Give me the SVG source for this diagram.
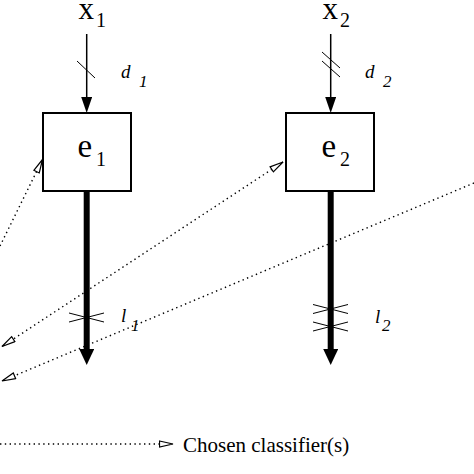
<svg xmlns="http://www.w3.org/2000/svg" width="474" height="474" viewBox="0 0 474 474">
<style>
  .box { fill: #fff; stroke: #000; stroke-width: 2; }
  .thin { stroke: #000; stroke-width: 1.5; fill: none; }
  .thick { stroke: #000; stroke-width: 6; fill: none; }
  .tick { stroke: #000; stroke-width: 1; fill: none; }
  .dot { stroke: #000; stroke-width: 1.4; fill: none; stroke-dasharray: 1.4 3.4; }
  text { font-family: 'Liberation Serif', 'DejaVu Serif', serif; fill: #000; }
  .big { font-size: 33px; }
  .top { font-size: 31px; }
  .sub { font-size: 20px; }
  .it { font-style: italic; font-size: 19px; }
  .its { font-style: italic; font-size: 17px; }
  .leg { font-size: 21px; }
</style>
<defs>
  <marker id="open" markerUnits="userSpaceOnUse" viewBox="0 0 16 8" markerWidth="16" markerHeight="8" refX="14.5" refY="4" orient="auto-start-reverse">
    <path d="M1,1 L14.5,4 L1,7 Z" fill="#fff" stroke="#000" stroke-width="1.2"/>
  </marker>
  <marker id="solid" markerUnits="userSpaceOnUse" viewBox="0 0 16 11" markerWidth="16" markerHeight="11" refX="0" refY="5.5" orient="auto">
    <path d="M0,0 L16,5.5 L0,11 Z" fill="#000"/>
  </marker>
  <marker id="solidBig" markerUnits="userSpaceOnUse" viewBox="0 0 16 15" markerWidth="16" markerHeight="15" refX="0" refY="7.5" orient="auto">
    <path d="M0,0 L16,7.5 L0,15 Z" fill="#000"/>
  </marker>
</defs>

<g id="connectors">
  <line class="thin" x1="86.7" y1="34" x2="86.7" y2="97" marker-end="url(#solid)"/>
  <line class="thin" x1="330.7" y1="34" x2="330.7" y2="97" marker-end="url(#solid)"/>
  <line class="tick" x1="77" y1="61" x2="95" y2="78"/>
  <line class="tick" x1="322" y1="52" x2="340" y2="68"/>
  <line class="tick" x1="322" y1="61" x2="340" y2="77"/>
  <line class="thick" x1="86.7" y1="192" x2="86.7" y2="349" marker-end="url(#solidBig)"/>
  <line class="thick" x1="330.7" y1="192" x2="330.7" y2="349" marker-end="url(#solidBig)"/>
  <line class="tick" x1="69" y1="313" x2="104" y2="322"/>
  <line class="tick" x1="69" y1="322" x2="104" y2="313"/>
  <line class="tick" x1="313" y1="304.5" x2="348" y2="313.5"/>
  <line class="tick" x1="313" y1="313.5" x2="348" y2="304.5"/>
  <line class="tick" x1="313" y1="322" x2="348" y2="331"/>
  <line class="tick" x1="313" y1="331" x2="348" y2="322"/>
  <line class="dot" x1="0" y1="246" x2="42.5" y2="159.5" marker-end="url(#open)"/>
  <line class="dot" x1="2" y1="346.5" x2="283" y2="162" marker-start="url(#open)" marker-end="url(#open)"/>
  <line class="dot" x1="474" y1="183" x2="2" y2="381" marker-end="url(#open)"/>
  <line class="dot" x1="0" y1="444" x2="173" y2="444" marker-end="url(#open)"/>
</g>

<g id="x1-label">
  <text class="top" x="78.5" y="19">x</text>
  <text class="sub" x="96" y="27">1</text>
</g>
<g id="x2-label">
  <text class="top" x="322.5" y="19">x</text>
  <text class="sub" x="340" y="27">2</text>
</g>
<g id="d1-label">
  <text class="it" x="121" y="78">d</text>
  <text class="its" x="139" y="87">1</text>
</g>
<g id="d2-label">
  <text class="it" x="365" y="78">d</text>
  <text class="its" x="383" y="87">2</text>
</g>

<g id="e1">
  <rect class="box" x="43" y="113" width="88" height="78"/>
  <text class="big" x="77.5" y="157">e</text>
  <text class="sub" x="96" y="166">1</text>
</g>
<g id="e2">
  <rect class="box" x="286" y="113" width="88" height="78"/>
  <text class="big" x="321.5" y="157">e</text>
  <text class="sub" x="340" y="166">2</text>
</g>

<g id="l1-label">
  <text class="it" x="121" y="322">l</text>
  <text class="its" x="131" y="331">1</text>
</g>
<g id="l2-label">
  <text class="it" x="375" y="323">l</text>
  <text class="its" x="382" y="331">2</text>
</g>

<g id="legend">
  <text class="leg" x="183" y="452">Chosen classifier(s)</text>
</g>
</svg>
